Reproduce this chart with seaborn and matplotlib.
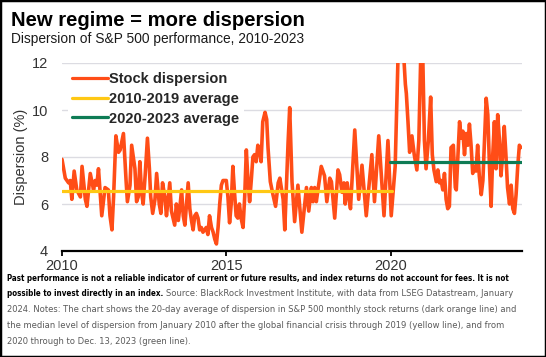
import numpy as np
import pandas as pd
import seaborn as sns
import matplotlib
matplotlib.use("Agg")
import matplotlib.pyplot as plt
from matplotlib.patches import Rectangle

# 20-day average dispersion (decimal years, %)
years = [
    2010.00, 2010.10, 2010.20, 2010.25, 2010.30, 2010.37, 2010.45, 2010.56, 2010.61, 2010.71,
    2010.76, 2010.86, 2010.96, 2011.01, 2011.06, 2011.11, 2011.16, 2011.21, 2011.31, 2011.41,
    2011.46, 2011.52, 2011.57, 2011.64, 2011.72, 2011.77, 2011.87, 2011.95, 2011.99, 2012.07,
    2012.12, 2012.22, 2012.27, 2012.32, 2012.37, 2012.42, 2012.47, 2012.53, 2012.60, 2012.66,
    2012.70, 2012.76, 2012.83, 2012.88, 2012.96, 2013.01, 2013.06, 2013.13, 2013.18, 2013.23,
    2013.28, 2013.33, 2013.38, 2013.43, 2013.48, 2013.54, 2013.59, 2013.64, 2013.69, 2013.74,
    2013.79, 2013.84, 2013.89, 2013.94, 2013.99, 2014.04, 2014.09, 2014.14, 2014.19, 2014.24,
    2014.29, 2014.34, 2014.39, 2014.44, 2014.49, 2014.55, 2014.60, 2014.65, 2014.70, 2014.75,
    2014.80, 2014.85, 2014.90, 2015.00, 2015.05, 2015.10, 2015.15, 2015.20, 2015.25, 2015.30,
    2015.35, 2015.40, 2015.45, 2015.51, 2015.56, 2015.61, 2015.66, 2015.71, 2015.76, 2015.81,
    2015.86, 2015.91, 2015.96, 2016.01, 2016.06, 2016.11, 2016.18, 2016.23, 2016.27, 2016.34,
    2016.42, 2016.50, 2016.58, 2016.63, 2016.73, 2016.78, 2016.88, 2016.93, 2017.00, 2017.08,
    2017.18, 2017.30, 2017.44, 2017.51, 2017.59, 2017.64, 2017.69, 2017.74, 2017.79, 2017.89,
    2017.99, 2018.06, 2018.15, 2018.20, 2018.30, 2018.40, 2018.45, 2018.52, 2018.58, 2018.62,
    2018.68, 2018.73, 2018.78, 2018.91, 2019.03, 2019.13, 2019.26, 2019.43, 2019.51, 2019.64,
    2019.80, 2019.92, 2020.02, 2020.14, 2020.25, 2020.38, 2020.45, 2020.48, 2020.53, 2020.58,
    2020.65, 2020.72, 2020.80, 2020.86, 2020.93, 2020.97, 2021.03, 2021.08, 2021.15, 2021.22,
    2021.27, 2021.32, 2021.39, 2021.44, 2021.49, 2021.54, 2021.59, 2021.64, 2021.69, 2021.74,
    2021.79, 2021.84, 2021.91, 2021.97, 2022.00, 2022.10, 2022.15, 2022.20, 2022.25, 2022.30,
    2022.35, 2022.40, 2022.45, 2022.50, 2022.55, 2022.60, 2022.65, 2022.70, 2022.76, 2022.81,
    2022.91, 2022.96, 2023.01, 2023.06, 2023.11, 2023.16, 2023.21, 2023.26, 2023.31, 2023.36,
    2023.41, 2023.46, 2023.51, 2023.56, 2023.62, 2023.67, 2023.72, 2023.77, 2023.82, 2023.87,
    2023.92, 2023.96,
]
dispersion = [
    7.9, 7.1, 6.9, 7.0, 6.2, 7.4, 6.6, 6.3, 7.6, 6.2,
    5.9, 7.3, 6.6, 7.0, 6.8, 7.5, 6.5, 5.5, 6.7, 6.6,
    5.5, 4.9, 6.3, 8.9, 8.2, 8.3, 9.0, 7.0, 6.1, 6.8,
    8.5, 7.5, 6.1, 6.3, 7.8, 6.5, 6.0, 7.2, 8.8, 7.5,
    6.3, 5.6, 6.2, 7.3, 6.0, 5.6, 6.9, 6.3, 5.5, 6.2,
    6.9, 5.7, 5.4, 5.1, 6.0, 5.3, 5.9, 6.6, 5.5, 5.1,
    6.0, 6.9, 5.8, 5.3, 4.9, 5.5, 5.6, 5.4, 4.9, 5.0,
    4.8, 4.9, 5.0, 4.7, 5.5, 5.0, 4.8, 4.5, 4.3, 5.0,
    6.0, 6.8, 7.0, 7.0, 6.3, 5.2, 6.0, 7.6, 6.5, 5.5,
    5.4, 6.0, 5.4, 5.0, 6.3, 8.3, 7.0, 6.1, 7.0, 8.0,
    8.1, 7.8, 8.5, 8.3, 7.8, 9.5, 9.9, 9.6, 8.4, 6.95,
    6.4, 5.9, 6.9, 7.1, 6.2, 4.9, 8.6, 10.1, 6.95, 5.25,
    6.8, 4.8, 6.7, 5.7, 6.7, 6.1, 6.7, 6.1, 6.6, 7.6,
    7.2, 6.1, 7.1, 6.95, 5.4, 7.45, 7.25, 6.5, 6.9, 6.0,
    6.9, 6.3, 5.8, 9.15, 6.2, 7.65, 5.5, 8.1, 6.1, 8.9,
    5.5, 8.7, 5.5, 7.6, 13.5, 12.8, 11.1, 10.7, 9.5, 8.2,
    8.9, 8.1, 7.45, 8.7, 13.0, 13.0, 8.7, 7.5, 8.7, 10.55,
    8.1, 7.45, 6.95, 7.45, 6.9, 7.0, 6.6, 7.3, 6.2, 5.8,
    5.9, 8.4, 8.5, 6.7, 6.6, 9.5, 8.8, 9.1, 8.1, 9.0,
    8.5, 9.4, 8.5, 7.3, 7.6, 7.4, 8.5, 7.2, 6.4, 7.0,
    10.5, 9.8, 7.6, 5.9, 8.1, 9.5, 7.5, 9.8, 8.8, 7.2,
    8.1, 9.3, 8.1, 6.7, 6.0, 6.8, 5.8, 5.6, 6.4, 7.6,
    8.5, 8.4,
]
avg_2010_2019 = 6.55
avg_2020_2023 = 7.78
period_1 = [2010.0, 2020.03]
period_2 = [2019.97, 2023.98]

W, H = 546, 357
ORANGE = "#ff4d17"
YELLOW = "#ffc814"
GREEN = "#0e7c55"
GREY_TXT = "#333333"
NOTE_GREY = "#5a5a5a"

sns.set_theme(style="white")
plt.rcParams["font.family"] = ["Liberation Sans", "DejaVu Sans"]

fig = plt.figure(figsize=(W / 100, H / 100), dpi=100)
ax = fig.add_axes([62 / W, 1 - 251 / H, 460 / W, 188 / H])

df = pd.DataFrame({"year": years, "dispersion": dispersion})
sns.lineplot(data=df, x="year", y="dispersion", ax=ax, color=ORANGE, lw=2.6,
             sort=False, label="Stock dispersion", zorder=3)
sns.lineplot(x=period_1, y=[avg_2010_2019] * 2, ax=ax, color=YELLOW, lw=2.3,
             label="2010-2019 average", zorder=4)
sns.lineplot(x=period_2, y=[avg_2020_2023] * 2, ax=ax, color=GREEN, lw=2.3,
             label="2020-2023 average", zorder=4)

ax.set_xlim(2010, 2024)
ax.set_ylim(4, 12)
ax.set_xticks([2010, 2015, 2020])
ax.set_xticklabels(["2010", "2015", "2020"])
ax.set_yticks([4, 6, 8, 10, 12])
ax.set_xlabel("")
ax.set_ylabel("Dispersion (%)", fontsize=10.5, color=GREY_TXT, labelpad=3)
ax.yaxis.grid(True, color="#dcdce2", lw=1.0)
ax.set_axisbelow(True)
for s in ["top", "right", "left"]:
    ax.spines[s].set_visible(False)
ax.spines["bottom"].set_color("black")
ax.spines["bottom"].set_linewidth(1.6)
ax.spines["bottom"].set_zorder(5)
ax.tick_params(axis="y", length=0, pad=10, labelsize=10.5, labelcolor=GREY_TXT)
ax.tick_params(axis="x", bottom=True, length=3.5, width=1.3, color="black",
               pad=2, labelsize=10.5, labelcolor=GREY_TXT)

leg = ax.legend(loc="upper left", bbox_to_anchor=(0.012, 0.973), frameon=True,
                facecolor="white", edgecolor="none", framealpha=1, fancybox=False,
                borderpad=0.3, borderaxespad=0, handlelength=2.45, handletextpad=0.1,
                labelspacing=0.38, prop={"weight": "bold", "size": 10.5})
for line in leg.get_lines():
    line.set_linewidth(2.3)

# --- texts around the chart, sized to the widths they take in the picture
renderer = fig.canvas.get_renderer()


def fit_text(x, y, s, width, size=10, **kw):
    t = fig.text(x / W, 1 - y / H, s, fontsize=size, va="baseline", ha="left", **kw)
    w = t.get_window_extent(renderer).width
    t.set_fontsize(size * width / w)
    return t


fit_text(11, 26.5, "New regime = more dispersion", 295, weight="bold", color="black")
fit_text(11, 43.5, "Dispersion of S&P 500 performance, 2010-2023", 294, color="#1a1a1a")

narrow = dict(family=["DejaVu Sans"], stretch="condensed")
b1 = fit_text(7, 281, "Past performance is not a reliable indicator of current or future results, "
              "and index returns do not account for fees. It is not", 501,
              weight="bold", color="black", **narrow)
bsize = b1.get_fontsize()
r3 = fit_text(7, 312.5, "2024. Notes: The chart shows the 20-day average of dispersion in S&P 500 "
              "monthly stock returns (dark orange line) and", 512, color=NOTE_GREY, **narrow)
rsize = r3.get_fontsize()

b2 = fig.text(7 / W, 1 - 296.5 / H, "possible to invest directly in an index.", fontsize=bsize,
              weight="bold", color="black", va="baseline", **narrow)
bx = b2.get_window_extent(renderer).x1
fig.text((bx + 3) / W, 1 - 296.5 / H, "Source: BlackRock Investment Institute, with data from "
         "LSEG Datastream, January", fontsize=rsize, color=NOTE_GREY, va="baseline", **narrow)
fig.text(7 / W, 1 - 328.5 / H, "the median level of dispersion from January 2010 after the global "
         "financial crisis through 2019 (yellow line), and from", fontsize=rsize,
         color=NOTE_GREY, va="baseline", **narrow)
fig.text(7 / W, 1 - 344 / H, "2020 through to Dec. 13, 2023 (green line).", fontsize=rsize,
         color=NOTE_GREY, va="baseline", **narrow)

fig.patches.append(Rectangle((0, 0), 1, 1, transform=fig.transFigure, fill=False,
                             edgecolor="black", lw=2.5))

fig.savefig("out.png", dpi=100)
